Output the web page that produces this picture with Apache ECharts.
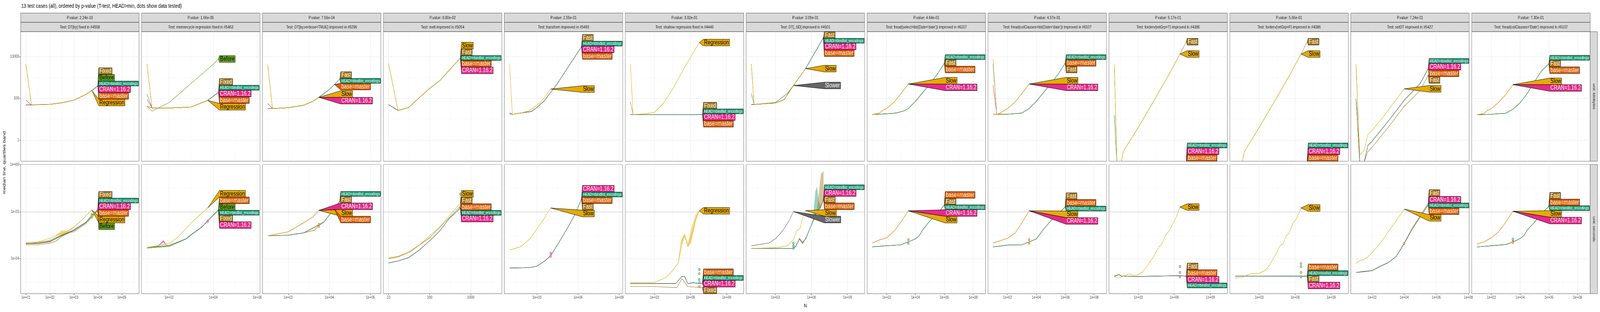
<!DOCTYPE html>
<html>
<head>
<meta charset="utf-8">
<script src="https://cdn.jsdelivr.net/npm/echarts@6/dist/echarts.min.js"></script>
<style>
  html, body { margin: 0; padding: 0; background: #fff; overflow: hidden; }
  #chart { width: 5200px; height: 800px; }
</style>
</head>
<body>
<div id="chart"></div>
<script>
// strip texts, one per column
const pValues = ['2.24e-10', '1.66e-05', '7.56e-04', '8.80e-02', '2.55e-01', '3.02e-01', '3.09e-01',
  '4.64e-01', '4.97e-01', '5.17e-01', '5.66e-01', '7.24e-01', '7.30e-01'];
const testNames = [
  'DT[by] fixed in #4558',
  'memrecycle regression fixed in #5463',
  'DT[by,verbose=TRUE] improved in #6296',
  'melt improved in #5054',
  'transform improved in #5493',
  'shallow regression fixed in #4440',
  'DT[,.SD] improved in #4501',
  "fread(select=list(Date='date')) improved in #6107",
  "fread(colClasses=list(Date='date')) improved in #6107",
  'forderv(retGrp=T) improved in #4386',
  'forderv(retGrp=F) improved in #4386',
  'setDT improved in #5427',
  "fread(colClasses='Date') improved in #6107"
];
const rowUnits = ['unit: kilobytes', 'unit: seconds'];

// x axis (N, log10) per column: extent, labelled ticks, minor grid lines
const xExtents = [[0.78, 5.72], [0.754, 6.12], [0.745, 6.51], [0.875, 3.756], [0.62, 9.26], [0.574, 10.42],
  [0.57, 10.42], [0.64, 8.86], [0.65, 8.86], [0.555, 10.42], [0.555, 10.42], [0.67, 8.06], [0.636, 8.87]];
const xMajorExp = [[1, 2, 3, 4, 5], [2, 4, 6], [2, 4, 6], [1, 2, 3], [3, 6, 9], [3, 6, 9], [3, 6, 9],
  [2, 4, 6, 8], [2, 4, 6, 8], [3, 6, 9], [3, 6, 9], [2, 4, 6, 8], [2, 4, 6, 8]];
const xMinorExp = [[1.5, 2.5, 3.5, 4.5, 5.5], [1, 3, 5], [1, 3, 5], [1.5, 2.5, 3.5], [1.5, 4.5, 7.5],
  [1.5, 4.5, 7.5], [1.5, 4.5, 7.5], [1, 3, 5, 7], [1, 3, 5, 7], [1.5, 4.5, 7.5], [1.5, 4.5, 7.5],
  [1, 3, 5, 7], [1, 3, 5, 7]];
const xPlainLabels = [false, false, false, true, false, false, false, false, false, false, false, false, false];

// y axis (log10) per row
const yExtents = [[-1.02, 5.19], [-5.49, 0.01]];
const yMajorExp = [[0, 2, 4], [-4, -2, 0]];
const yMinorExp = [[-1, 1, 3, 5], [-5, -3, -1]];
const timeRefLine = 0.01;

// ---- memory (kilobytes) medians, [N, value] ----
const p01MemHead = [[10, 81], [17, 48], [100, 51], [316, 60], [1000, 81], [3162, 151], [5623, 234], [10000, 389]];
const p01MemLow = [[10, 48], [17, 48], [100, 51], [316, 60], [1000, 81], [3162, 151], [5623, 234], [10000, 389]];
const p01MemFixed = [[10, 4365], [17, 48], [100, 51], [316, 60], [1000, 81], [3162, 151], [5623, 234], [10000, 389]];
const p01MemRegression = [[10, 4365], [17, 48], [100, 51], [316, 60], [1000, 81], [3162, 151], [5623, 234]];

const p02MemRegression = [[10, 4365], [17, 34], [100, 34], [251, 35], [1000, 38], [5623, 79]];
const p02MemHead = [[10, 158], [17, 34], [100, 34], [251, 35], [1000, 38], [5623, 79], [17378, 190]];
const p02MemCran = [[10, 89], [17, 34], [100, 34], [251, 35], [1000, 38], [5623, 79], [17378, 190]];
const p02MemBase = [[10, 41], [17, 34], [100, 34], [251, 35], [1000, 38], [5623, 79], [17378, 190]];
const p02MemFixed = [[10, 4365], [17, 34], [100, 34], [251, 35], [1000, 38], [5623, 79], [17378, 190]];
const p02MemBefore = [[10, 41], [17, 24], [100, 62], [1000, 513], [10000, 4266], [17378, 7586]];

const p03MemSlow = [[10, 4074], [17, 32], [100, 35], [562, 46], [1585, 71], [3090, 110]];
const p03MemCran = [[10, 32], [17, 32], [100, 35], [562, 46], [1585, 71], [3090, 110]];
const p03MemHead = [[10, 56], [17, 32], [100, 35], [562, 46], [1585, 71], [3090, 110], [10000, 263], [32359, 832]];
const p03MemFast = [[10, 4074], [17, 32], [100, 35], [562, 46], [1585, 71], [3090, 110], [10000, 263], [32359, 832]];
const p03MemBase = [[10, 32], [17, 32], [100, 35], [562, 46], [1585, 71], [3090, 110], [10000, 263], [17783, 457]];

const p04MemSlow = [[10, 4571], [17, 26], [31, 36], [57, 110], [100, 295], [178, 708], [295, 2138], [562, 8511]];
const p04MemLow = [[10, 50], [17, 26], [31, 36], [57, 110], [100, 295], [178, 708], [295, 2138], [562, 8511]];

const p05MemSlow = [[10, 4571], [16, 17], [63, 19], [302, 26], [1862, 63], [10000, 275]];
const p05MemCommon = [[10, 19.5], [16, 17], [400, 23], [1000, 36], [3162, 71], [31623, 513], [158489, 2630], [1778279, 29512]];
const p05MemCran = [[10, 17], [16, 17], [400, 23], [1000, 36], [3162, 71], [31623, 513], [158489, 2630], [1778279, 29512]];

const p06MemRegression = [[10, 4365], [17, 16.6], [200, 18], [1000, 21], [5495, 56], [31623, 263], [346737, 3311], [5370318, 46774]];
const p06MemCommon = [[10, 16.6], [17, 16.6], [10000000, 16.6]];
const p06MemFixed = [[10, 67], [17, 16.6], [10000000, 16.6]];

const p07MemSlow = [[10, 4365], [17, 50], [1000, 59], [5495, 87], [31623, 407], [323594, 2630]];
const p07MemSlower = [[10, 50], [17, 50], [1000, 62], [10000, 170], [31623, 407]];
const p07MemHead = [[10, 170], [17, 50], [1000, 59], [5495, 87], [31623, 407], [323594, 2630], [9772372, 79433]];
const p07MemFast = [[10, 4365], [17, 50], [1000, 59], [5495, 87], [31623, 407], [323594, 2630], [9772372, 79433]];
const p07MemLow = [[10, 50], [17, 50], [1000, 59], [5495, 87], [31623, 407], [323594, 2630], [9772372, 79433]];

const p08MemSlow = [[10, 16.6], [32, 19.5], [59, 27.5], [100, 32], [339, 67], [1000, 170], [3162, 479]];
const p08MemCommon = [[10, 16.6], [100, 17.8], [437, 19.5], [1514, 24.5], [3162, 32], [10000, 71], [63096, 331], [316228, 1380], [1000000, 4786]];

const p09MemSlow = [[10, 7586], [18, 17], [30, 18.6], [60, 26], [100, 32], [347, 67], [1000, 170], [3162, 479]];
const p09MemCran = [[10, 427], [18, 17], [30, 18.6], [60, 26], [100, 32], [347, 67], [1000, 170], [3162, 479]];
const p09MemHead = [[10, 4571], [18, 17], [100, 17], [1000, 19.5], [3162, 32], [10000, 71], [63096, 331], [316228, 1380], [1000000, 4786]];
const p09MemLow = [[10, 17], [18, 17], [100, 17], [1000, 19.5], [3162, 32], [10000, 71], [63096, 331], [316228, 1380], [1000000, 4786]];

const p10MemSlow = [[10, 4074], [17, 0.05], [32, 0.05], [56, 0.275], [1000, 4], [18621, 71], [363078, 1380], [2951209, 13183]];
const p10MemFast = [[10, 4074], [17, 0.05], [32, 0.05], [56, 0.275], [1000, 4], [18621, 71], [363078, 1380], [2951209, 13183], [10000000, 51286]];
const p10MemHead = [[10, 15.5], [17, 0.05], [10000000, 0.05]];
const p10MemLow = [[10, 0.05], [10000000, 0.05]];

const p11MemSlow = [[10, 0.05], [31, 0.05], [58, 0.275], [1000, 4], [19055, 71], [371535, 1380], [3019952, 13183]];
const p11MemFast = [[10, 0.05], [31, 0.05], [58, 0.275], [1000, 4], [19055, 71], [371535, 1380], [3019952, 13183], [10000000, 51286]];
const p11MemLow = [[10, 0.05], [10000000, 0.05]];

const p12MemSlow = [[10, 4365], [17, 0.19], [31, 0.3], [55, 1.86], [100, 2.9], [295, 7.8], [1000, 26], [1995, 56], [3631, 98], [10000, 282]];
const p12MemCommon = [[10, 93], [17, 0.08], [31, 0.08], [55, 0.54], [100, 0.87], [1000, 7.8], [10000, 79], [100000, 513], [316228, 2630]];
const p12MemFast = [[10, 4365], [17, 0.08], [31, 0.08], [55, 0.275], [100, 0.45], [1000, 4], [10000, 41], [100000, 234], [316228, 1288]];

const p13MemSlow = [[10, 16], [31, 18.6], [55, 26], [100, 32], [309, 62], [977, 145], [3162, 447]];
const p13MemCommon = [[10, 16], [100, 17], [977, 19], [3162, 29.5], [10000, 60], [30903, 166], [97724, 603], [309030, 2042], [1000000, 4467]];

// ---- time (seconds) medians, [N, value] ----
const p01TimeHead = [[10, 0.00045], [32, 0.00045], [100, 0.00054], [316, 0.001], [1000, 0.0017], [3162, 0.0036], [5623, 0.0069], [10000, 0.012]];
const p01TimeCran = [[10, 0.00044], [32, 0.00046], [100, 0.00056], [178, 0.00072], [316, 0.00098], [1000, 0.0016], [3162, 0.0035], [5623, 0.0068], [10000, 0.0118]];
const p01TimeBase = [[10, 0.00043], [32, 0.00044], [100, 0.00052], [316, 0.00096], [1000, 0.0016], [3162, 0.0035], [5623, 0.0067], [10000, 0.0112]];
const p01TimeFixed = [[10, 0.00039], [32, 0.00039], [100, 0.00046], [178, 0.00055], [316, 0.0009], [1000, 0.0016], [3162, 0.0034], [5623, 0.0064], [10000, 0.0135]];
const p01TimeBefore = [[10, 0.00042], [100, 0.0006], [316, 0.00105], [562, 0.0013], [1000, 0.0014], [3162, 0.0031], [5623, 0.0058], [10000, 0.0104]];
const p01TimeRegression = [[10, 0.00049], [32, 0.00052], [100, 0.00074], [562, 0.0015], [1000, 0.0022], [1778, 0.0037], [5623, 0.012]];

const p02TimeRegression = [[10, 0.0003], [100, 0.00044], [257, 0.00085], [1000, 0.0034], [5623, 0.0145]];
const p02TimeCommon = [[10, 0.0003], [100, 0.00036], [575, 0.0007], [1000, 0.00105], [3162, 0.0023], [5623, 0.0041], [17378, 0.012]];
const p02TimeCran = [[10, 0.0003], [32, 0.00034], [55, 0.00058], [75, 0.00037], [100, 0.00036], [575, 0.0007], [1000, 0.00105], [3162, 0.0023], [5623, 0.0041], [17378, 0.0118]];
const p02TimeBefore = [[10, 0.00028], [100, 0.00033], [575, 0.00068], [1000, 0.00103], [3162, 0.0023], [5623, 0.0041], [17378, 0.0125]];

const p03TimeSlow = [[10, 0.00095], [100, 0.0014], [562, 0.0034], [1585, 0.006], [3090, 0.0115]];
const p03TimeHead = [[10, 0.00095], [100, 0.001], [562, 0.00126], [3090, 0.0027], [5623, 0.0037], [10000, 0.0074], [32359, 0.029]];
const p03TimeFast = [[10, 0.00095], [100, 0.001], [562, 0.00126], [3090, 0.0028], [5623, 0.0038], [10000, 0.0072], [32359, 0.027]];
const p03TimeBase = [[10, 0.00095], [100, 0.001], [562, 0.00126], [1585, 0.0016], [1738, 0.00155], [3090, 0.0026], [5623, 0.0037], [10000, 0.0074], [17783, 0.013]];

const p04TimeSlow = [[10, 0.00011], [17, 0.000126], [31, 0.0002], [57, 0.00039], [100, 0.00095], [178, 0.0023], [295, 0.0066], [562, 0.0234]];
const p04TimeFast = [[10, 0.0001], [17, 0.00012], [31, 0.00018], [100, 0.00078], [295, 0.0055], [562, 0.0178]];
const p04TimeLow = [[10, 0.000066], [17, 0.000079], [31, 0.000112], [57, 0.00024], [100, 0.00058], [178, 0.00155], [295, 0.005], [562, 0.0145]];

const p05TimeSlow = [[10, 0.000234], [63, 0.00032], [302, 0.0007], [1000, 0.00186], [3981, 0.006], [10000, 0.0145]];
const p05TimeCommon = [[10, 0.00004], [302, 0.000042], [1000, 0.000048], [3981, 0.000083], [10000, 0.000135], [42658, 0.00052], [158489, 0.0019], [575440, 0.0074], [1778279, 0.035]];

const p06TimeRegression = [[10, 0.0000098], [1000, 0.0000098], [10000, 0.000016], [31623, 0.000031], [100000, 0.000068], [181970, 0.00058], [331131, 0.00105], [588844, 0.00032], [1148154, 0.00085], [2818383, 0.005], [5370318, 0.011]];
const p06TimeCommon = [[10, 0.0000087], [1000, 0.0000087], [58884, 0.0000087], [190546, 0.0000175], [331131, 0.000017], [588844, 0.0000087], [1778279, 0.0000095], [5011872, 0.0000087], [10000000, 0.0000087]];
const p06TimeFixed = [[10, 0.0000065], [1000, 0.0000065], [72444, 0.0000059], [190546, 0.000014], [588844, 0.0000065], [10000000, 0.0000059]];

const p07TimeSlower = [[10, 0.000355], [275, 0.00046], [1000, 0.0007], [3981, 0.00155], [13490, 0.0041], [31623, 0.0102]];
const p07TimeSlow = [[10, 0.00027], [1660, 0.0003], [10000, 0.00035], [31623, 0.00065], [58884, 0.00155], [107152, 0.00186], [194984, 0.006], [323594, 0.0112]];
const p07TimeCommon = [[10, 0.00027], [31623, 0.00027], [50119, 0.00035], [100000, 0.0007], [177828, 0.00044], [354813, 0.00078], [630957, 0.00155], [1348963, 0.0041], [2818383, 0.011], [6025596, 0.0158], [10000000, 0.035]];
const p07TimeFast = [[10, 0.00027], [31623, 0.00027], [50119, 0.00033], [100000, 0.00075], [177828, 0.0005], [354813, 0.00072], [630957, 0.0016], [1348963, 0.0038], [2818383, 0.0105], [6025596, 0.017], [10000000, 0.033]];

const p08TimeSlow = [[10, 0.00046], [36, 0.00065], [100, 0.00078], [339, 0.00155], [1000, 0.0037], [3162, 0.011]];
const p08TimeCommon = [[10, 0.00032], [100, 0.000355], [1000, 0.00039], [3162, 0.00052], [10000, 0.0007], [17783, 0.00095], [31623, 0.0017], [100000, 0.0041], [316228, 0.0081], [1000000, 0.0195]];

const p09TimeSlow = [[10, 0.00046], [100, 0.00074], [347, 0.00126], [1000, 0.0034], [3162, 0.011]];
const p09TimeCommon = [[10, 0.00032], [18, 0.00033], [100, 0.00038], [1000, 0.00039], [3162, 0.00052], [10000, 0.0007], [33884, 0.0019], [100000, 0.0041], [316228, 0.0081], [1000000, 0.0158]];

const p10TimeSlow = [[10, 0.000017], [32, 0.000016], [182, 0.000023], [389, 0.000019], [1000, 0.000021], [2291, 0.000028], [5623, 0.00005], [18621, 0.000123], [52481, 0.00032], [95499, 0.00044], [173780, 0.00095], [426580, 0.0017], [1023293, 0.0041], [1862087, 0.0081], [2951209, 0.0158]];
const p10TimeFlat = [[10, 0.000018], [25, 0.000021], [40, 0.000018], [1000, 0.0000175], [3000000, 0.000019], [10000000, 0.000018]];

const p11TimeSlow = [[10, 0.000015], [36, 0.000016], [190, 0.000023], [1000, 0.000024], [3162, 0.000032], [7762, 0.000056], [19055, 0.000123], [53703, 0.00035], [100000, 0.00044], [177828, 0.00095], [323594, 0.00126], [588844, 0.003], [1071519, 0.0045], [1949845, 0.0081], [3019952, 0.0145]];
const p11TimeFlat = [[10, 0.000018], [1000, 0.0000178], [100000, 0.0000182], [10000000, 0.000018]];

const p12TimeSlow = [[10, 0.000062], [17, 0.000083], [31, 0.000091], [55, 0.000123], [100, 0.00018], [191, 0.0003], [575, 0.00078], [1000, 0.0014], [3162, 0.0041], [10000, 0.013]];
const p12TimeCommon = [[10, 0.000026], [31, 0.000028], [100, 0.000031], [295, 0.000046], [1000, 0.000068], [3162, 0.000123], [10000, 0.00044], [33113, 0.0019], [109648, 0.0066], [316228, 0.0195]];
const p12TimeFast = [[10, 0.000026], [31, 0.000029], [100, 0.000031], [295, 0.000046], [1000, 0.000068], [3162, 0.000125], [10000, 0.00046], [33113, 0.0021], [109648, 0.0075], [316228, 0.023]];

const p13TimeSlow = [[10, 0.00042], [31, 0.00052], [100, 0.00078], [309, 0.00138], [977, 0.0035], [3162, 0.0105]];
const p13TimeCommon = [[10, 0.000316], [100, 0.000355], [1000, 0.0004], [3162, 0.00051], [10000, 0.00072], [19055, 0.00098], [30903, 0.00166], [97724, 0.0035], [309030, 0.0081], [1000000, 0.0174]];

// ---- quartile bands (time), [N, q25, q75] ----
const p01BandRegression = [[178, 0.00095, 0.00105], [316, 0.0011, 0.0016], [562, 0.0013, 0.0016], [1000, 0.0021, 0.0023]];
const p02BandCran = [[32, 0.00033, 0.00035], [55, 0.0005, 0.00062], [75, 0.00036, 0.00038]];
const p06BandRegression = [[100000, 0.000062, 0.0001], [181970, 0.00032, 0.00071], [331131, 0.00085, 0.00115], [588844, 0.00032, 0.00044], [1148154, 0.00048, 0.0019], [2818383, 0.0041, 0.0081], [5370318, 0.011, 0.012]];
const p07BandHead = [[1348963, 0.0035, 0.0055], [2089296, 0.006, 0.07], [2818383, 0.009, 0.12], [3981072, 0.012, 0.03], [6025596, 0.014, 0.017]];
const p07BandFast = [[2818383, 0.0095, 0.012], [3981072, 0.012, 0.05], [6025596, 0.015, 0.4], [10000000, 0.03, 0.55]];

// ---- data-tested dots (time), [N, value] ----
const p01Dots = { HEAD: [[5623, 0.0076]], Before: [[5623, 0.0059], [5623, 0.0068]] };
const p02Dots = { CRAN: [[5623, 0.004]] };
const p03Dots = { base: [[3090, 0.0029], [3090, 0.0024]] };
const p04Dots = { HEAD: [[562, 0.057]], CRAN: [[562, 0.0145]] };
const p05Dots = { CRAN: [[10000, 0.00017], [10000, 0.000126]] };
const p06Dots = { HEAD: [[5370318, 0.000035], [5370318, 0.000013], [5370318, 0.0000095]], Fixed: [[5370318, 0.000023], [5370318, 0.0000065]] };
const p07Dots = { HEAD: [[31623, 0.00046], [31623, 0.00035], [31623, 0.00028]] };
const p08Dots = { base: [[3162, 0.00065]], HEAD: [[3162, 0.00046]] };
const p09Dots = { base: [[3162, 0.00065], [3162, 0.00046]] };
const p10Dots = { CRAN: [[2951209, 0.000046], [2951209, 0.000017]], HEAD: [[2951209, 0.000026]] };
const p11Dots = { Fast: [[3019952, 0.000062], [3019952, 0.000026]], HEAD: [[3019952, 0.000046], [3019952, 0.000017]] };
const p12Dots = { base: [[10000, 0.00044]] };
const p13Dots = { HEAD: [[3162, 0.00068]], base: [[3162, 0.00056], [3162, 0.0005]] };

// which array each version uses in each panel (key order = label order, top to bottom)
const memSeries = [
  { Fixed: p01MemFixed, Before: p01MemLow, HEAD: p01MemHead, CRAN: p01MemLow, base: p01MemLow, Regression: p01MemRegression },
  { Before: p02MemBefore, Fixed: p02MemFixed, HEAD: p02MemHead, CRAN: p02MemCran, base: p02MemBase, Regression: p02MemRegression },
  { Fast: p03MemFast, HEAD: p03MemHead, base: p03MemBase, Slow: p03MemSlow, CRAN: p03MemCran },
  { Slow: p04MemSlow, Fast: p04MemSlow, HEAD: p04MemLow, base: p04MemLow, CRAN: p04MemLow },
  { Fast: p05MemCommon, HEAD: p05MemCommon, CRAN: p05MemCran, base: p05MemCommon, Slow: p05MemSlow },
  { Regression: p06MemRegression, Fixed: p06MemFixed, HEAD: p06MemCommon, CRAN: p06MemCommon, base: p06MemCommon },
  { Fast: p07MemFast, HEAD: p07MemHead, CRAN: p07MemLow, base: p07MemLow, Slow: p07MemSlow, Slower: p07MemSlower },
  { HEAD: p08MemCommon, Fast: p08MemCommon, base: p08MemCommon, Slow: p08MemSlow, CRAN: p08MemSlow },
  { HEAD: p09MemHead, base: p09MemLow, Fast: p09MemLow, Slow: p09MemSlow, CRAN: p09MemCran },
  { Fast: p10MemFast, Slow: p10MemSlow, HEAD: p10MemHead, CRAN: p10MemLow, base: p10MemLow },
  { Fast: p11MemFast, Slow: p11MemSlow, HEAD: p11MemLow, CRAN: p11MemLow, base: p11MemLow },
  { HEAD: p12MemCommon, CRAN: p12MemCommon, base: p12MemCommon, Fast: p12MemFast, Slow: p12MemSlow },
  { HEAD: p13MemCommon, Fast: p13MemCommon, base: p13MemCommon, Slow: p13MemSlow, CRAN: p13MemSlow }
];
const timeSeries = [
  { Fixed: p01TimeFixed, HEAD: p01TimeHead, CRAN: p01TimeCran, base: p01TimeBase, Regression: p01TimeRegression, Before: p01TimeBefore },
  { Regression: p02TimeRegression, base: p02TimeCommon, Before: p02TimeBefore, HEAD: p02TimeCommon, Fixed: p02TimeCommon, CRAN: p02TimeCran },
  { HEAD: p03TimeHead, Fast: p03TimeFast, CRAN: p03TimeSlow, Slow: p03TimeSlow, base: p03TimeBase },
  { Slow: p04TimeSlow, Fast: p04TimeFast, base: p04TimeLow, HEAD: p04TimeLow, CRAN: p04TimeLow },
  { CRAN: p05TimeCommon, HEAD: p05TimeCommon, base: p05TimeCommon, Fast: p05TimeCommon, Slow: p05TimeSlow },
  { Regression: p06TimeRegression, base: p06TimeCommon, HEAD: p06TimeCommon, CRAN: p06TimeCommon, Fixed: p06TimeFixed },
  { HEAD: p07TimeCommon, CRAN: p07TimeCommon, Fast: p07TimeFast, base: p07TimeCommon, Slow: p07TimeSlow, Slower: p07TimeSlower },
  { base: p08TimeCommon, Fast: p08TimeCommon, HEAD: p08TimeCommon, CRAN: p08TimeSlow, Slow: p08TimeSlow },
  { Fast: p09TimeCommon, base: p09TimeCommon, HEAD: p09TimeCommon, Slow: p09TimeSlow, CRAN: p09TimeSlow },
  { Slow: p10TimeSlow, Fast: p10TimeFlat, base: p10TimeFlat, CRAN: p10TimeFlat, HEAD: p10TimeFlat },
  { Slow: p11TimeSlow, base: p11TimeFlat, HEAD: p11TimeFlat, Fast: p11TimeFlat, CRAN: p11TimeFlat },
  { Fast: p12TimeFast, CRAN: p12TimeCommon, HEAD: p12TimeCommon, base: p12TimeCommon, Slow: p12TimeSlow },
  { Fast: p13TimeCommon, base: p13TimeCommon, HEAD: p13TimeCommon, Slow: p13TimeSlow, CRAN: p13TimeSlow }
];
const timeBands = [{ Regression: p01BandRegression }, { CRAN: p02BandCran }, {}, {}, {}, { Regression: p06BandRegression },
  { HEAD: p07BandHead, Fast: p07BandFast }, {}, {}, {}, {}, {}, {}];
const timeDots = [p01Dots, p02Dots, p03Dots, p04Dots, p05Dots, p06Dots, p07Dots, p08Dots, p09Dots, p10Dots, p11Dots, p12Dots, p13Dots];

const versionNames = {
  HEAD: 'HEAD=rbindlist_encodings', base: 'base=master', CRAN: 'CRAN=1.16.2', Before: 'Before',
  Regression: 'Regression', Fixed: 'Fixed', Fast: 'Fast', Slow: 'Slow', Slower: 'Slower'
};
const versionColors = {
  HEAD: '#1B9E77', base: '#D95F02', CRAN: '#E7298A', Before: '#66A61E',
  Regression: '#E6AB02', Slow: '#E6AB02', Fixed: '#A6761D', Fast: '#A6761D', Slower: '#666666'
};
const labelTextColors = {
  HEAD: '#fff', base: '#fff', CRAN: '#fff', Before: '#000',
  Regression: '#000', Slow: '#000', Fixed: '#fff', Fast: '#fff', Slower: '#fff'
};
const drawOrder = ['Fixed', 'Fast', 'Before', 'base', 'CRAN', 'HEAD', 'Slower', 'Regression', 'Slow'];

const FONT = '"Liberation Sans", Arial, sans-serif';
const PAGE_W = 5200;
const PANEL_LEFT = 67, PANEL_W = 385, PANEL_GAP = 8;
const ROW_TOP = [81.3, 422], ROW_H = [332, 331];
const MAJOR_GRID = '#ebebeb', MINOR_GRID = '#f4f4f4';

const measureCtx = document.createElement('canvas').getContext('2d');
function textWidth(text, size) {
  measureCtx.font = size + 'px ' + FONT;
  return measureCtx.measureText(text).width;
}
function sciLabel(v) {
  const e = Math.round(Math.log10(v));
  return (e < 0 ? '1e-' : '1e+') + String(Math.abs(e)).padStart(2, '0');
}
const pow10 = e => Math.pow(10, e);

function hexAlpha(hex, a) {
  const n = parseInt(hex.slice(1), 16);
  return 'rgba(' + (n >> 16) + ',' + ((n >> 8) & 255) + ',' + (n & 255) + ',' + a + ')';
}

// stack the labels of one panel right of the last points (like directlabels)
function layoutLabels(api, cs, order, dataMap) {
  const top = cs.y, bottom = cs.y + cs.height;
  const items = order.map(k => {
    const arr = dataMap[k];
    const p = api.coord(arr[arr.length - 1]);
    const big = k !== 'HEAD';
    const fontSize = big ? 16 : 10.5;
    const h = big ? 17 : 12.5;
    return { k, tx: p[0], ty: Math.min(bottom, Math.max(top, p[1])), h, fontSize,
      w: textWidth(versionNames[k], fontSize) + 4 };
  });
  const bx = Math.max(...items.map(d => d.tx)) + 3;
  let off = 0;
  const want = items.map(d => { const v = d.ty - d.h / 2 - off; off += d.h; return v; });
  const total = off;
  const blocks = [];
  want.forEach(v => {
    blocks.push({ sum: v, n: 1 });
    while (blocks.length > 1) {
      const b = blocks[blocks.length - 1], a = blocks[blocks.length - 2];
      if (a.sum / a.n > b.sum / b.n) { a.sum += b.sum; a.n += b.n; blocks.pop(); } else break;
    }
  });
  const z = [];
  blocks.forEach(b => { for (let j = 0; j < b.n; j++) z.push(b.sum / b.n); });
  let acc = 0;
  items.forEach((d, i) => {
    const zi = Math.min(bottom - total, Math.max(top, z[i]));
    d.y0 = zi + acc; acc += d.h; d.x0 = bx;
  });
  return items;
}

function labelRenderer(order, dataMap) {
  return function (params, api) {
    const items = layoutLabels(api, params.coordSys, order, dataMap);
    const d = items[params.dataIndex];
    return {
      type: 'group',
      children: [
        { type: 'polygon',
          shape: { points: [[d.tx, d.ty], [d.x0, d.y0], [d.x0 + d.w, d.y0], [d.x0 + d.w, d.y0 + d.h], [d.x0, d.y0 + d.h]] },
          style: { fill: versionColors[d.k], stroke: '#000', lineWidth: 0.9 } },
        { type: 'text', x: d.x0 + 2, y: d.y0 + d.h / 2 + 0.5,
          style: { text: versionNames[d.k], fill: labelTextColors[d.k], font: d.fontSize + 'px ' + FONT,
            align: 'left', verticalAlign: 'middle' } }
      ]
    };
  };
}

function bandRenderer(keys, bandMap) {
  return function (params, api) {
    const k = keys[params.dataIndex];
    const band = bandMap[k];
    const upper = band.map(p => api.coord([p[0], p[2]]));
    const lower = band.map(p => api.coord([p[0], p[1]])).reverse();
    return { type: 'polygon', shape: { points: upper.concat(lower) },
      style: { fill: hexAlpha(versionColors[k], 0.45), stroke: 'none' } };
  };
}

const grids = [], xAxes = [], yAxes = [], series = [], graphics = [];
for (let r = 0; r < 2; r++) {
  for (let c = 0; c < 13; c++) {
    const gi = grids.length;
    const left = PANEL_LEFT + c * (PANEL_W + PANEL_GAP);
    grids.push({ left, top: ROW_TOP[r], width: PANEL_W, height: ROW_H[r], show: true,
      backgroundColor: '#fff', borderColor: '#5a5a5a', borderWidth: 1 });

    const xMin = pow10(xExtents[c][0]), xMax = pow10(xExtents[c][1]);
    const xMaj = xMajorExp[c].map(pow10), xMinr = xMinorExp[c].map(pow10);
    xAxes.push({ type: 'log', logBase: 10, gridIndex: gi, min: xMin, max: xMax, position: 'bottom',
      axisLine: { show: false },
      axisTick: { show: r === 1, customValues: xMaj, length: 3.5, lineStyle: { color: '#333', width: 1 } },
      axisLabel: { show: r === 1, customValues: xMaj, color: '#4d4d4d', fontSize: 10.5, margin: 5, fontFamily: FONT,
        formatter: v => xPlainLabels[c] ? String(Math.round(v)) : sciLabel(v) },
      splitLine: { show: true, lineStyle: { color: MAJOR_GRID, width: 1.1 } } });
    xAxes.push({ type: 'log', logBase: 10, gridIndex: gi, min: xMin, max: xMax, position: 'top',
      axisLine: { show: false }, axisTick: { show: false, customValues: xMinr }, axisLabel: { show: false },
      splitLine: { show: true, lineStyle: { color: MINOR_GRID, width: 0.7 } } });

    const yMin = pow10(yExtents[r][0]), yMax = pow10(yExtents[r][1]);
    const yMaj = yMajorExp[r].map(pow10), yMinr = yMinorExp[r].map(pow10);
    yAxes.push({ type: 'log', logBase: 10, gridIndex: gi, min: yMin, max: yMax, position: 'left',
      axisLine: { show: false },
      axisTick: { show: c === 0, customValues: yMaj, length: 3.5, lineStyle: { color: '#333', width: 1 } },
      axisLabel: { show: c === 0, customValues: yMaj, color: '#4d4d4d', fontSize: 10.5, margin: 5, fontFamily: FONT,
        formatter: v => r === 0 ? String(Math.round(v)) : sciLabel(v) },
      splitLine: { show: true, lineStyle: { color: MAJOR_GRID, width: 1.1 } } });
    yAxes.push({ type: 'log', logBase: 10, gridIndex: gi, min: yMin, max: yMax, position: 'right',
      axisLine: { show: false }, axisTick: { show: false, customValues: yMinr }, axisLabel: { show: false },
      splitLine: { show: true, lineStyle: { color: MINOR_GRID, width: 0.7 } } });

    const axes = { xAxisIndex: 2 * gi, yAxisIndex: 2 * gi };
    const dataMap = r === 0 ? memSeries[c] : timeSeries[c];
    const order = Object.keys(dataMap);

    if (r === 1) {
      const bandMap = timeBands[c];
      const bandKeys = Object.keys(bandMap);
      if (bandKeys.length) {
        series.push(Object.assign({
          type: 'custom', coordinateSystem: 'cartesian2d', clip: true, silent: true, z: 2,
          data: bandKeys.map(k => bandMap[k][0].slice(0, 2)),
          renderItem: bandRenderer(bandKeys, bandMap)
        }, axes));
      }
    }

    let first = true;
    drawOrder.filter(k => dataMap[k]).forEach(k => {
      const s = Object.assign({
        type: 'line', name: versionNames[k],
        data: dataMap[k], showSymbol: false, symbol: 'none', silent: true,
        lineStyle: { color: versionColors[k], width: 1.2 }, itemStyle: { color: versionColors[k] }, z: 3
      }, axes);
      if (r === 1 && first) {
        s.markLine = { silent: true, symbol: 'none', label: { show: false },
          lineStyle: { color: '#bdbdbd', width: 1.2, type: 'solid' }, data: [{ yAxis: timeRefLine }] };
      }
      first = false;
      series.push(s);
    });

    if (r === 1) {
      const dots = timeDots[c];
      Object.keys(dots).forEach(k => {
        series.push(Object.assign({
          type: 'scatter', data: dots[k], symbol: 'emptyCircle', symbolSize: 5, silent: true, z: 4,
          itemStyle: { color: versionColors[k], borderColor: versionColors[k], borderWidth: 1.1 }
        }, axes));
      });
    }

    series.push(Object.assign({
      type: 'custom', coordinateSystem: 'cartesian2d', clip: false, silent: true, z: 6,
      data: order.map(k => dataMap[k][dataMap[k].length - 1]),
      renderItem: labelRenderer(order, dataMap)
    }, axes));

    if (r === 0) {
      graphics.push(
        { type: 'rect', shape: { x: left, y: 33.5, width: PANEL_W, height: 23.5 },
          style: { fill: '#d9d9d9', stroke: '#5a5a5a', lineWidth: 1 } },
        { type: 'text', x: left + PANEL_W / 2, y: 45.5,
          style: { text: 'P.value: ' + pValues[c], font: '11px ' + FONT, fill: '#1a1a1a', align: 'center', verticalAlign: 'middle' } },
        { type: 'rect', shape: { x: left, y: 57.5, width: PANEL_W, height: 23.5 },
          style: { fill: '#d9d9d9', stroke: '#5a5a5a', lineWidth: 1 } },
        { type: 'text', x: left + PANEL_W / 2, y: 69.5,
          style: { text: 'Test: ' + testNames[c], font: '11px ' + FONT, fill: '#1a1a1a', align: 'center', verticalAlign: 'middle' } }
      );
    }
  }
}

const stripX = PANEL_LEFT + 13 * PANEL_W + 12 * PANEL_GAP;
for (let r = 0; r < 2; r++) {
  graphics.push(
    { type: 'rect', shape: { x: stripX, y: ROW_TOP[r], width: 23.5, height: ROW_H[r] },
      style: { fill: '#d9d9d9', stroke: '#5a5a5a', lineWidth: 1 } },
    { type: 'text', x: stripX + 12, y: ROW_TOP[r] + ROW_H[r] / 2, rotation: -Math.PI / 2,
      style: { text: rowUnits[r], font: '11px ' + FONT, fill: '#1a1a1a', align: 'center', verticalAlign: 'middle' } }
  );
}
graphics.push(
  { type: 'text', x: 69, y: 16,
    style: { text: '13 test cases (all), ordered by p-value (T-test, HEAD>min, dots show data tested)',
      font: '14.5px ' + FONT, fill: '#000', align: 'left', verticalAlign: 'middle' } },
  { type: 'text', x: 14, y: 417, rotation: Math.PI / 2,
    style: { text: 'median line, quartiles band', font: '13.5px ' + FONT, fill: '#000', align: 'center', verticalAlign: 'middle' } },
  { type: 'text', x: (PANEL_LEFT + stripX) / 2, y: 784,
    style: { text: 'N', font: '13.5px ' + FONT, fill: '#000', align: 'center', verticalAlign: 'middle' } }
);

// the chart is laid out for a 5200px page; squeeze it horizontally if the window is narrower
const chartEl = document.getElementById('chart');
const fit = Math.min(1, window.innerWidth / PAGE_W);
if (fit < 1) {
  chartEl.style.transformOrigin = '0 0';
  chartEl.style.transform = 'scale(' + fit + ', 1)';
}

const chart = echarts.init(chartEl, null, { renderer: 'canvas' });
chart.setOption({
  animation: false,
  backgroundColor: '#fff',
  textStyle: { fontFamily: FONT },
  grid: grids,
  xAxis: xAxes,
  yAxis: yAxes,
  series: series,
  graphic: graphics
});
</script>
</body>
</html>
